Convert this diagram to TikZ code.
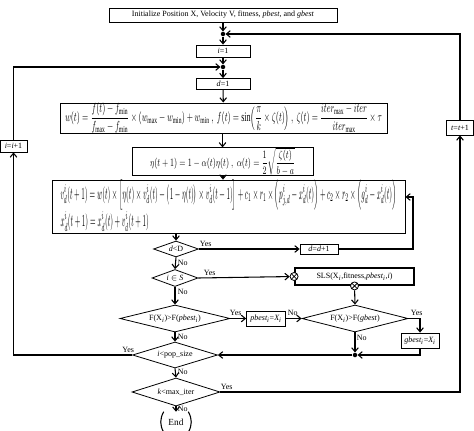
\documentclass[tikz,border=0pt]{standalone}
\usepackage{amsmath}
\usepackage{graphicx}
\usepackage{fontspec}
\setmainfont{Liberation Serif}
\usetikzlibrary{shapes.geometric,arrows.meta,calc}
\begin{document}
\begin{tikzpicture}[x=0.75pt,y=-0.75pt,
  every node/.style={font=\fontsize{6}{7}\selectfont},
  bw/.style={minimum width=#1*0.75pt},
  bh/.style={minimum height=#1*0.75pt},
  box/.style={draw, line width=0.6pt, inner sep=0pt},
  fbox/.style={box, font=\fontsize{10}{12}\selectfont},
  dia/.style={draw, diamond, line width=0.6pt, inner sep=0pt},
  arr/.style={-{Straight Barb[length=3pt,width=5pt]}, line width=0.8pt},
  dot/.style={circle, fill, inner sep=0pt, minimum size=4.5*0.75pt},
  lab/.style={inner sep=0.5pt},
  cx/.style={circle, draw, line width=0.6pt, fill=white, minimum size=8*0.75pt, inner sep=0pt,
    path picture={\draw[line width=0.6pt] (path picture bounding box.south west) -- (path picture bounding box.north east)
      (path picture bounding box.north west) -- (path picture bounding box.south east);}}
]
\useasboundingbox (0,0) rectangle (474,431);

% nodes
\node[box,bw=228,bh=14] (init) at (223,15) {Initialize Position X, Velocity V, fitness, \textit{pbest}, and \textit{gbest}};
\node[dot] (dot1) at (223,34) {};
\node[box,bw=54,bh=12] (i1) at (223,51) {\textit{i}=1};
\node[dot] (dot2) at (223,67) {};
\node[box,bw=54,bh=11] (d1) at (223,84) {\textit{d}=1};
\node[fbox,bw=327,bh=30] (f1) at (223.5,118) {\resizebox{237.75pt}{14pt}{$\displaystyle w(t)=\frac{f(t)-f_{\min}}{f_{\max}-f_{\min}}\times\left(w_{\max}-w_{\min}\right)+w_{\min}\ ,\ f(t)=\sin\!\left(\frac{\pi}{k}\times\zeta(t)\right),\ \zeta(t)=\frac{iter_{\max}-iter}{iter_{\max}}\times\tau$}};
\node[fbox,bw=181,bh=27] (f2) at (222.5,161.5) {\resizebox{108.75pt}{14pt}{$\displaystyle \eta(t+1)=1-\alpha(t)\eta(t)\ ,\ \alpha(t)=\frac{1}{2}\sqrt{\frac{\zeta(t)}{b-a}}$}};
\node[fbox,bw=353,bh=47] (f3) at (228.5,206.5) {\resizebox{252pt}{23pt}{\begin{tabular}{@{}l@{}}$\displaystyle v_d^i(t+1)=w(t)\times\Big[\eta(t)\times v_d^i(t)-\big(1-\eta(t)\big)\times v_d^i(t-1)\Big]+c_1\times r_1\times\Big(p_{j,d}^{i}-x_d^i(t)\Big)+c_2\times r_2\times\Big(g_d^i-x_d^i(t)\Big)$\\[4pt]$\displaystyle x_d^i(t+1)=x_d^i(t)+v_d^i(t+1)$\end{tabular}}};
\node[dia,bw=45,bh=16,aspect=2.8] (dD) at (176,249) {\textit{d}<D};
\node[box,bw=38,bh=10] (dd1) at (319,249) {\textit{d}=\textit{d}+1};
\node[dia,bw=46,bh=17,aspect=2.7] (iS) at (175,278) {\textit{i} $\in$ \textit{S}};
\node[box,bw=119,bh=17,line width=1.4pt] (sls) at (354.5,276.5) {SLS(X\textsubscript{\textit{i}},fitness,\textit{pbest\textsubscript{i}},\textit{i})};
\node[cx] (cx1) at (sls.west) {};
\node[cx] (cx2) at (sls.south) {};
\node[dia,bw=110,bh=27,aspect=4.07] (Fp) at (175,318.5) {F(X\textsubscript{\textit{i}})>F(\textit{pbest\textsubscript{i}})};
\node[box,bw=39,bh=15] (pb) at (266,318.5) {\textit{pbest\textsubscript{i}}=\textit{X\textsubscript{i}}};
\node[dia,bw=106,bh=27,aspect=3.93] (Fg) at (355,318.5) {F(X\textsubscript{\textit{i}})>F(\textit{gbest})};
\node[box,bw=38,bh=15] (gb) at (420,340.5) {\textit{gbest\textsubscript{i}}=\textit{X\textsubscript{i}}};
\node[dot] (dot3) at (355,355) {};
\node[dia,bw=85,bh=26,aspect=3.27] (ip) at (175,355) {\textit{i}<pop\_size};
\node[dia,bw=88,bh=28,aspect=3.14] (km) at (176,392) {\textit{k}<max\_iter};
\node[bw=24,bh=20,inner sep=0pt,font=\fontsize{7}{8}\selectfont] (end) at (176,422) {End};
\node[box,bw=27,bh=12] (ii1) at (13.5,146) {\textit{i}=\textit{i}+1};
\node[box,bw=27,bh=15] (tt1) at (460,127.5) {\textit{t}=\textit{t}+1};
\coordinate (dloop) at (413,197);
\coordinate (f3in) at (223,175);

% End arcs
\draw[line width=0.8pt] (end.north west) to[out=240,in=120] (end.south west);
\draw[line width=0.8pt] (end.north east) to[out=-60,in=60] (end.south east);

% connectors
\draw[arr] (init) -- (dot1);
\draw[arr] (tt1.north) |- (dot1);
\draw[arr] (dot1) -- (i1);
\draw[arr] (i1) -- (dot2);
\draw[arr] (ii1.north) |- (dot2);
\draw[arr] (dot2) -- (d1);
\draw[arr] (d1) -- (f1);
\draw[arr] (f1.south -| f2.north) -- (f2.north);
\draw[arr] (f3in) -- (f3in |- f3.north);
\draw[arr] (dD.north |- f3.south) -- (dD.north);
\draw[arr] (dD.east) -- (dd1.west);
\draw[arr] (dd1.east) -| (dloop) -- (dloop -| f3.east);
\draw[arr] (dD.south) -- (iS.north);
\draw[arr] (iS.east) -- (cx1);
\draw[arr] (cx2) -- (Fg.north);
\draw[arr] (iS.south) -- (Fp.north);
\draw[arr] (Fp.east) -- (pb.west);
\draw[arr] (pb.east) -- (Fg.west);
\draw[arr] (Fg.east) -| (gb.north);
\draw[arr] (Fg.south) -- (dot3);
\draw[arr] (gb.south) |- (dot3);
\draw[arr] (dot3) -- (ip.east);
\draw[arr] (Fp.south) -- (ip.north);
\draw[arr] (ip.west) -| (ii1.south);
\draw[arr] (ip.south) -- (km.north);
\draw[arr] (km.east) -| (tt1.south);
\draw[arr] (km.south) -- (end.north);

% labels
\node[lab,anchor=south west] at (199,248) {Yes};
\node[lab,anchor=west] at (177,263) {No};
\node[lab,anchor=south west] at (203,277) {Yes};
\node[lab,anchor=west] at (177,292) {No};
\node[lab,anchor=south west] at (229,317) {Yes};
\node[lab,anchor=south west] at (287,317) {No};
\node[lab,anchor=south west] at (410,317) {Yes};
\node[lab,anchor=west] at (356,338) {No};
\node[lab,anchor=west] at (177,337) {No};
\node[lab,anchor=south east] at (135,354) {Yes};
\node[lab,anchor=west] at (177,372) {No};
\node[lab,anchor=south west] at (220,391) {Yes};
\node[lab,anchor=west] at (177,409) {No};
\end{tikzpicture}
\end{document}
